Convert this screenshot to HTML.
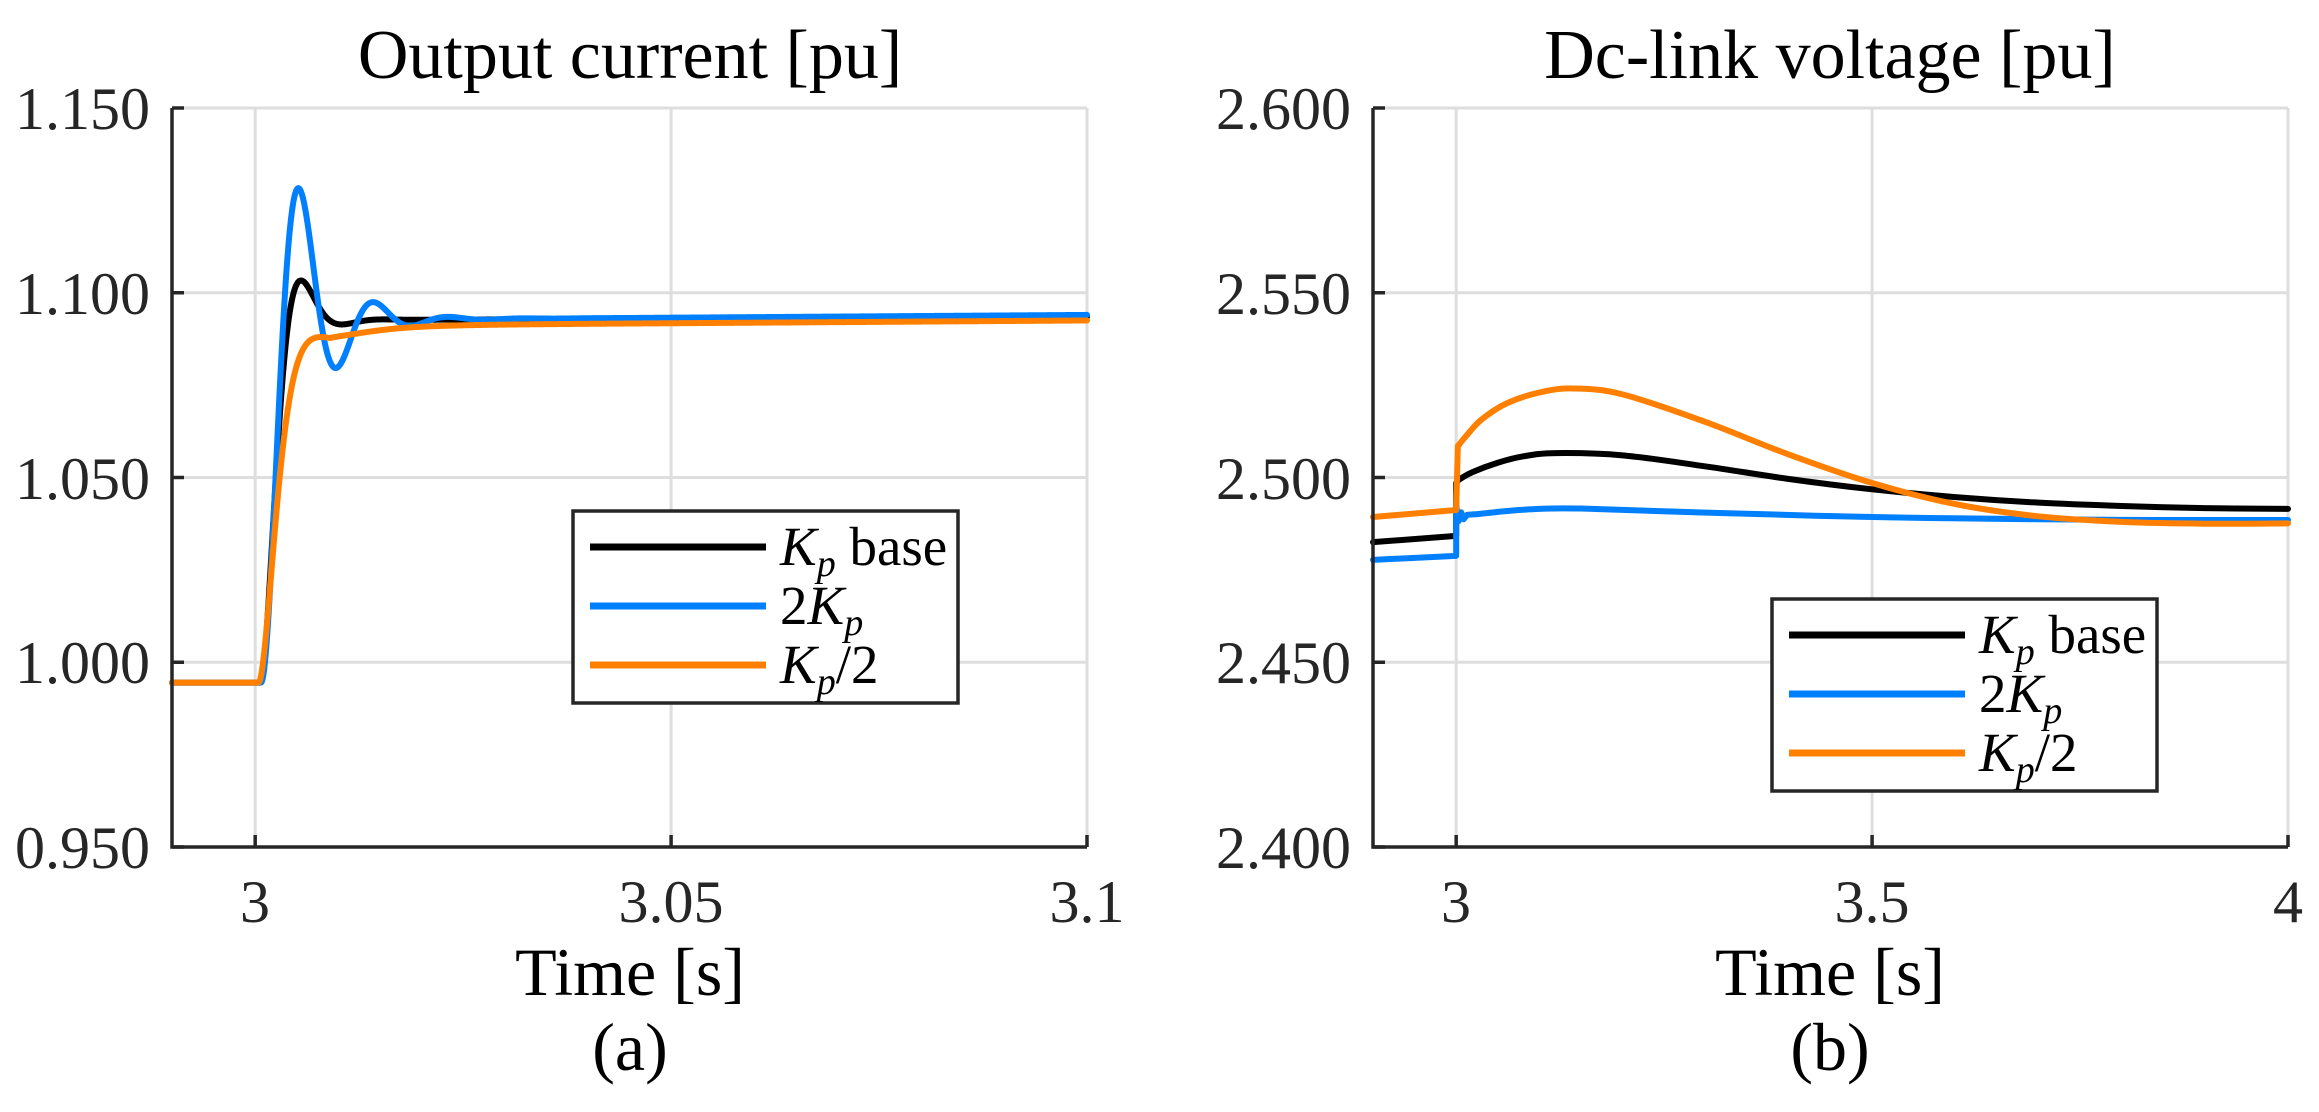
<!DOCTYPE html>
<html><head><meta charset="utf-8">
<style>
html,body{margin:0;padding:0;background:#fff;}
svg{display:block;}
text{font-family:"Liberation Serif","DejaVu Serif",serif;fill:#262626;}
.tk{font-size:60px;}
.ttl{font-size:70px;fill:#000;}
.xl{font-size:68px;fill:#000;}
.lg{font-size:55px;fill:#000;}
</style></head><body>
<svg id="s" width="2319" height="1112" viewBox="0 0 2319 1112" xmlns="http://www.w3.org/2000/svg">
<rect width="2319" height="1112" fill="#fff"/>
<g id="grid" stroke="#dedede" stroke-width="3" fill="none"></g>
<g id="curves" fill="none" stroke-width="6" stroke-linejoin="round" stroke-linecap="round"></g>
<g id="axes" stroke="#262626" stroke-width="3.5" fill="none"></g>

<text class="ttl" x="630" y="78" text-anchor="middle">Output current [pu]</text>
<text class="tk" x="150" y="129" text-anchor="end">1.150</text>
<text class="tk" x="150" y="314" text-anchor="end">1.100</text>
<text class="tk" x="150" y="499" text-anchor="end">1.050</text>
<text class="tk" x="150" y="683" text-anchor="end">1.000</text>
<text class="tk" x="150" y="868" text-anchor="end">0.950</text>
<text class="tk" x="255" y="922" text-anchor="middle">3</text>
<text class="tk" x="671" y="922" text-anchor="middle">3.05</text>
<text class="tk" x="1087" y="922" text-anchor="middle">3.1</text>
<text class="xl" x="630" y="995" text-anchor="middle">Time [s]</text>
<text class="xl" x="630" y="1070" text-anchor="middle">(a)</text>

<text class="ttl" x="1830" y="78" text-anchor="middle">Dc-link voltage [pu]</text>
<text class="tk" x="1351" y="129" text-anchor="end">2.600</text>
<text class="tk" x="1351" y="314" text-anchor="end">2.550</text>
<text class="tk" x="1351" y="499" text-anchor="end">2.500</text>
<text class="tk" x="1351" y="683" text-anchor="end">2.450</text>
<text class="tk" x="1351" y="868" text-anchor="end">2.400</text>
<text class="tk" x="1456" y="922" text-anchor="middle">3</text>
<text class="tk" x="1872" y="922" text-anchor="middle">3.5</text>
<text class="tk" x="2288" y="922" text-anchor="middle">4</text>
<text class="xl" x="1830" y="995" text-anchor="middle">Time [s]</text>
<text class="xl" x="1830" y="1070" text-anchor="middle">(b)</text>

<rect x="573" y="511" width="385" height="192" fill="#fff" stroke="#262626" stroke-width="3.5"/>
<line x1="590" y1="547" x2="766" y2="547" stroke="#000" stroke-width="7"/>
<line x1="590" y1="606" x2="766" y2="606" stroke="#0080ff" stroke-width="7"/>
<line x1="590" y1="665" x2="766" y2="665" stroke="#ff8000" stroke-width="7"/>
<text class="lg" x="780" y="565"><tspan font-style="italic">K</tspan><tspan font-style="italic" font-size="38" dy="11">p</tspan><tspan dy="-11">  base</tspan></text>
<text class="lg" x="780" y="624">2<tspan font-style="italic">K</tspan><tspan font-style="italic" font-size="38" dy="11">p</tspan></text>
<text class="lg" x="780" y="683"><tspan font-style="italic">K</tspan><tspan font-style="italic" font-size="38" dy="11">p</tspan><tspan dy="-11">/2</tspan></text>

<rect x="1772" y="599" width="385" height="192" fill="#fff" stroke="#262626" stroke-width="3.5"/>
<line x1="1789" y1="635" x2="1965" y2="635" stroke="#000" stroke-width="7"/>
<line x1="1789" y1="694" x2="1965" y2="694" stroke="#0080ff" stroke-width="7"/>
<line x1="1789" y1="753" x2="1965" y2="753" stroke="#ff8000" stroke-width="7"/>
<text class="lg" x="1979" y="653"><tspan font-style="italic">K</tspan><tspan font-style="italic" font-size="38" dy="11">p</tspan><tspan dy="-11">  base</tspan></text>
<text class="lg" x="1979" y="712">2<tspan font-style="italic">K</tspan><tspan font-style="italic" font-size="38" dy="11">p</tspan></text>
<text class="lg" x="1979" y="771"><tspan font-style="italic">K</tspan><tspan font-style="italic" font-size="38" dy="11">p</tspan><tspan dy="-11">/2</tspan></text>
</svg>
<script>
(function(){
var NS="http://www.w3.org/2000/svg";
function el(p,tag,a){var e=document.createElementNS(NS,tag);for(var k in a)e.setAttribute(k,a[k]);p.appendChild(e);return e;}
var grid=document.getElementById('grid'),curves=document.getElementById('curves'),axes=document.getElementById('axes');
var T=108,B=847;
var L={x0:172,x1:1087,t0:2.99,t1:3.1,v0:0.95,v1:1.15};
var R={x0:1373,x1:2288,t0:2.9,t1:4.0,v0:2.4,v1:2.6};
function X(P,t){return P.x0+(t-P.t0)/(P.t1-P.t0)*(P.x1-P.x0);}
function Y(P,v){return B-(v-P.v0)/(P.v1-P.v0)*(B-T);}
function drawFrame(P,xt,yt){
  xt.forEach(function(t){var x=X(P,t);el(grid,'line',{x1:x,y1:T,x2:x,y2:B});});
  yt.forEach(function(v){var y=Y(P,v);el(grid,'line',{x1:P.x0,y1:y,x2:P.x1,y2:y});});
  el(grid,'line',{x1:P.x1,y1:T,x2:P.x1,y2:B});
  el(grid,'line',{x1:P.x0,y1:T,x2:P.x1,y2:T});
}
function drawAxes(P,xt,yt){
  el(axes,'polyline',{points:P.x0+','+T+' '+P.x0+','+B+' '+P.x1+','+B});
  xt.forEach(function(t){var x=X(P,t);el(axes,'line',{x1:x,y1:B,x2:x,y2:B-12});});
  yt.forEach(function(v){var y=Y(P,v);el(axes,'line',{x1:P.x0,y1:y,x2:P.x0+12,y2:y});});
}
drawFrame(L,[3,3.05],[1.0,1.05,1.1]);
drawFrame(R,[3,3.5],[2.45,2.5,2.55]);

function fnPath(P,f,col){
  var d='',n=1600;
  for(var i=0;i<=n;i++){var t=P.t0+(P.t1-P.t0)*i/n;var v=f(t);
    d+=(i?'L':'M')+X(P,t).toFixed(2)+','+Y(P,v).toFixed(2);}
  el(curves,'path',{d:d,stroke:col});
}
function so(tau,sig,wd){
  if(tau<=0)return 0;
  return 1-Math.exp(-sig*tau)*(Math.cos(wd*tau)+sig/wd*Math.sin(wd*tau));
}
var v0=0.9945;
fnPath(L,function(t){var tau=t-3.0;if(tau<=0)return v0;
  var vf=1.0925+0.001*(t-3.0)/0.1;
  return v0+(vf-v0)*so(tau-0.0006,450,640);},'#000');
fnPath(L,function(t){var tau=t-3.0;if(tau<=0)return v0;
  var vf=1.0925+0.0015*(t-3.0)/0.1;
  return v0+(vf-v0)*so(tau-0.0007,225,700);},'#0080ff');
fnPath(L,function(t){var tau=t-3.0;if(tau<=0)return v0;
  var fast=(1.0865-v0)*so(tau-0.0004,560,420);
  var slow=0.0045*(1-Math.exp(-Math.max(0,tau-0.009)/0.005))+0.0015*(t-3.0)/0.1;
  return v0+fast+slow;},'#ff8000');

function cr(P,pre,pts,col){
  var d='M'+X(P,pre[0][0])+','+Y(P,pre[0][1]);
  for(var i=1;i<pre.length;i++)d+='L'+X(P,pre[i][0]).toFixed(2)+','+Y(P,pre[i][1]).toFixed(2);
  var q=pts.map(function(p){return [X(P,p[0]),Y(P,p[1])];});
  d+='L'+q[0][0].toFixed(2)+','+q[0][1].toFixed(2);
  for(var i=0;i<q.length-1;i++){
    var p0=q[i-1]||q[i],p1=q[i],p2=q[i+1],p3=q[i+2]||q[i+1];
    var c1=[p1[0]+(p2[0]-p0[0])/6,p1[1]+(p2[1]-p0[1])/6];
    var c2=[p2[0]-(p3[0]-p1[0])/6,p2[1]-(p3[1]-p1[1])/6];
    d+='C'+c1[0].toFixed(2)+','+c1[1].toFixed(2)+' '+c2[0].toFixed(2)+','+c2[1].toFixed(2)+' '+p2[0].toFixed(2)+','+p2[1].toFixed(2);
  }
  el(curves,'path',{d:d,stroke:col});
}
cr(R,[[2.9,2.4825],[3.0,2.4842]],[[3.0,2.4985],[3.004,2.4995],[3.02,2.5015],[3.05,2.504],[3.08,2.5057],[3.12,2.5066],[3.2,2.506],[3.3,2.503],[3.4,2.4996],[3.5,2.4968],[3.6,2.4947],[3.7,2.4932],[3.8,2.4923],[3.9,2.4917],[4.0,2.4915]],'#000');
cr(R,[[2.9,2.4777],[3.0,2.4788],[3.0,2.4925],[3.003,2.4882],[3.006,2.4906],[3.009,2.4887],[3.013,2.4899]],[[3.013,2.4899],[3.03,2.4902],[3.06,2.4909],[3.1,2.4915],[3.15,2.4916],[3.3,2.4905],[3.5,2.4893],[3.7,2.4887],[3.85,2.4885],[4.0,2.4885]],'#0080ff');
cr(R,[[2.9,2.4893],[3.0,2.4912],[3.002,2.5085]],[[3.002,2.5085],[3.013,2.5115],[3.03,2.5156],[3.06,2.5200],[3.1,2.5230],[3.14,2.5241],[3.2,2.5225],[3.3,2.5150],[3.4,2.5062],[3.5,2.4985],[3.6,2.4928],[3.7,2.4895],[3.8,2.4880],[3.9,2.4875],[4.0,2.4876]],'#ff8000');

drawAxes(L,[3,3.05,3.1],[0.95,1.0,1.05,1.1,1.15]);
drawAxes(R,[3,3.5,4],[2.4,2.45,2.5,2.55,2.6]);
})();
</script>
</body></html>
